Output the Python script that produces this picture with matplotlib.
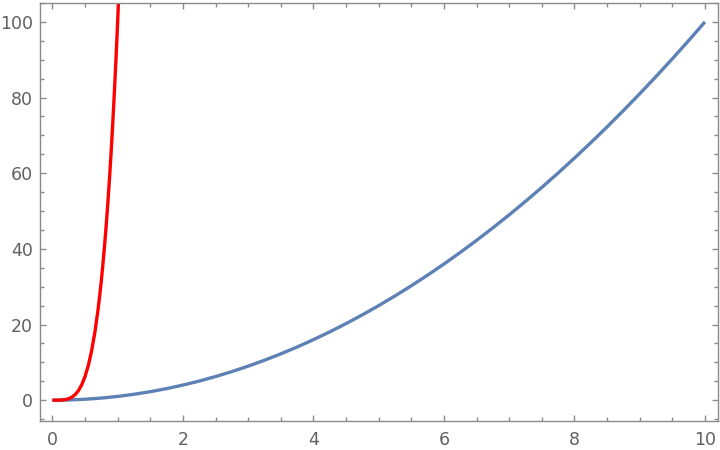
import matplotlib
matplotlib.use("Agg")
import matplotlib.pyplot as plt
from matplotlib.ticker import MultipleLocator

# Values
blue_x = [0, 0.25, 0.5, 0.75, 1, 1.25, 1.5, 1.75, 2, 2.25, 2.5, 2.75, 3,
          3.25, 3.5, 3.75, 4, 4.25, 4.5, 4.75, 5, 5.25, 5.5, 5.75, 6, 6.25,
          6.5, 6.75, 7, 7.25, 7.5, 7.75, 8, 8.25, 8.5, 8.75, 9, 9.25, 9.5,
          9.75, 10]
blue_y = [0, 0.06, 0.25, 0.56, 1, 1.56, 2.25, 3.06, 4, 5.06, 6.25, 7.56, 9,
          10.56, 12.25, 14.06, 16, 18.06, 20.25, 22.56, 25, 27.56, 30.25,
          33.06, 36, 39.06, 42.25, 45.56, 49, 52.56, 56.25, 60.06, 64, 68.06,
          72.25, 76.56, 81, 85.56, 90.25, 95.06, 100]

red_x = [0, 0.05, 0.1, 0.15, 0.2, 0.25, 0.3, 0.35, 0.4, 0.45, 0.5, 0.55,
         0.6, 0.65, 0.7, 0.725, 0.75, 0.775, 0.8, 0.825, 0.85, 0.875, 0.9,
         0.925, 0.95, 0.975, 1.0, 1.025, 1.05]
red_y = [0, 0.0006, 0.01, 0.05, 0.16, 0.39, 0.81, 1.5, 2.56, 4.1, 6.25,
         9.15, 12.96, 17.85, 24.0, 27.6, 31.6, 36.1, 41.0, 46.3, 52.2, 58.6,
         65.6, 73.2, 81.5, 90.4, 100, 110.4, 121.5]

x_ticks = [0, 2, 4, 6, 8, 10]
y_ticks = [0, 20, 40, 60, 80, 100]

fig = plt.figure(figsize=(7.2, 4.5), dpi=100)
ax = fig.add_axes([40 / 720, 1 - 421 / 450, 678 / 720, 418 / 450])

ax.plot(blue_x, blue_y, color="#5E81B5", lw=2.4, solid_capstyle="butt",
        solid_joinstyle="round")
ax.plot(red_x, red_y, color="#FF0000", lw=2.4, solid_capstyle="butt",
        solid_joinstyle="round")

ax.set_xlim(-0.19, 10.2)
ax.set_ylim(-5.5, 105.0)

ax.set_xticks(x_ticks)
ax.set_yticks(y_ticks)
ax.xaxis.set_minor_locator(MultipleLocator(0.5))
ax.yaxis.set_minor_locator(MultipleLocator(5))

frame_col = "#8a8a8a"
for s in ax.spines.values():
    s.set_color(frame_col)
    s.set_linewidth(1.0)

ax.tick_params(which="both", direction="in", top=True, right=True,
               color=frame_col, width=1.0)
ax.tick_params(which="major", length=4.6)
ax.tick_params(which="minor", length=2.6)
ax.tick_params(axis="both", which="major", labelsize=12.5,
               labelcolor="#606060")
ax.tick_params(axis="x", pad=7)
ax.tick_params(axis="y", pad=5)

fig.savefig("out.png", dpi=100)
